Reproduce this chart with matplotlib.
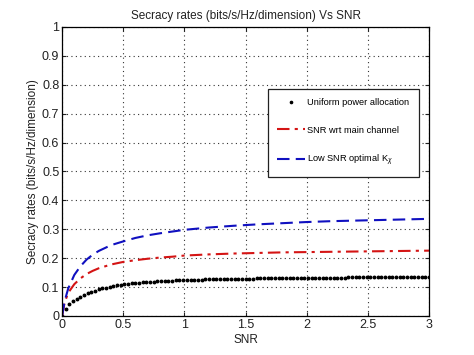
import matplotlib
matplotlib.use("Agg")
import matplotlib.pyplot as plt
import numpy as np

plt.rcParams["font.family"] = ["Liberation Sans", "DejaVu Sans"]
plt.rcParams["mathtext.fontset"] = "custom"
plt.rcParams["mathtext.rm"] = "Liberation Sans"
plt.rcParams["mathtext.it"] = "Liberation Sans:italic"

# uniform power allocation, sampled every 0.03 in SNR
snr_dots = [round(0.03 * i, 2) for i in range(101)]
rate_uniform = [
    0.000, 0.025, 0.040, 0.051, 0.060, 0.067, 0.073, 0.079, 0.084, 0.088,
    0.092, 0.095, 0.098, 0.101, 0.103, 0.106, 0.108, 0.110, 0.111, 0.113,
    0.114, 0.115, 0.116, 0.117, 0.118, 0.119, 0.120, 0.120, 0.121, 0.122,
    0.122, 0.123, 0.123, 0.124, 0.125, 0.125, 0.126, 0.126, 0.126, 0.127,
    0.127, 0.128, 0.128, 0.128, 0.128, 0.128, 0.128, 0.128, 0.128, 0.128,
    0.128, 0.128, 0.128, 0.132, 0.132, 0.132, 0.132, 0.132, 0.132, 0.132,
    0.132, 0.132, 0.132, 0.132, 0.132, 0.132, 0.132, 0.132, 0.132, 0.132,
    0.132, 0.132, 0.132, 0.132, 0.132, 0.132, 0.132, 0.132, 0.135, 0.135,
    0.135, 0.135, 0.135, 0.135, 0.135, 0.135, 0.135, 0.135, 0.135, 0.135,
    0.135, 0.135, 0.135, 0.135, 0.135, 0.135, 0.135, 0.135, 0.135, 0.135,
    0.135,
]

snr_lines = [0, 0.02, 0.05, 0.1, 0.15, 0.2, 0.25, 0.3, 0.4, 0.5, 0.6, 0.7,
             0.8, 0.9, 1.0, 1.2, 1.4, 1.6, 1.8, 2.0, 2.2, 2.4, 2.6, 2.8, 3.0]
rate_snr_main = [0.000, 0.045, 0.080, 0.110, 0.130, 0.145, 0.156, 0.165,
                 0.178, 0.187, 0.193, 0.198, 0.202, 0.205, 0.209, 0.213,
                 0.216, 0.218, 0.220, 0.221, 0.222, 0.223, 0.224, 0.225,
                 0.226]
rate_low_snr = [0.000, 0.050, 0.095, 0.142, 0.172, 0.195, 0.212, 0.225,
                0.245, 0.258, 0.270, 0.279, 0.286, 0.292, 0.298, 0.306,
                0.312, 0.317, 0.321, 0.325, 0.328, 0.330, 0.332, 0.334,
                0.336]

x_ticks = [0, 0.5, 1, 1.5, 2, 2.5, 3]
y_ticks = [round(0.1 * i, 1) for i in range(11)]

fig = plt.figure(figsize=(4.74, 3.55), dpi=100)
ax = fig.add_axes([0.131, 0.110, 0.774, 0.814])

ax.plot(snr_dots, rate_uniform, ".", color="black", markersize=3.6,
        label="Uniform power allocation")
ax.plot(snr_lines, rate_snr_main, "-.", color="#d41414", linewidth=1.5,
        dashes=(6, 2.5, 1.5, 2.5), label="SNR wrt main channel")
ax.plot(snr_lines, rate_low_snr, "--", color="#1010c0", linewidth=1.5,
        dashes=(6, 3), label="Low SNR optimal K$_\\chi$")

ax.set_xlim(0, 3)
ax.set_ylim(0, 1)
ax.set_xticks(x_ticks, [f"{v:g}" for v in x_ticks])
ax.set_yticks(y_ticks, [f"{v:g}" for v in y_ticks])
ax.tick_params(direction="in", top=True, right=True, length=3,
               labelsize=9, colors="#222222", pad=2)
ax.grid(True, linestyle=(0, (1, 3)), color="#333333", linewidth=0.8)
for s in ax.spines.values():
    s.set_linewidth(0.9)

ax.set_title("Secracy rates (bits/s/Hz/dimension) Vs SNR", fontsize=8.5,
             color="#222222", pad=6)
ax.set_xlabel("SNR", fontsize=8.5, color="#222222", labelpad=2)
ax.set_ylabel("Secracy rates (bits/s/Hz/dimension)", fontsize=8.5,
              color="#222222", labelpad=2)

leg = ax.legend(loc="upper left", bbox_to_anchor=(0.561, 0.785),
                fontsize=6.7, labelspacing=1.95, borderpad=1.0,
                handlelength=3.0, handletextpad=0.25, fancybox=False,
                framealpha=1, edgecolor="#222222", borderaxespad=0,
                markerscale=0.9)
leg.get_frame().set_linewidth(0.9)

fig.savefig("out.png", dpi=100)
